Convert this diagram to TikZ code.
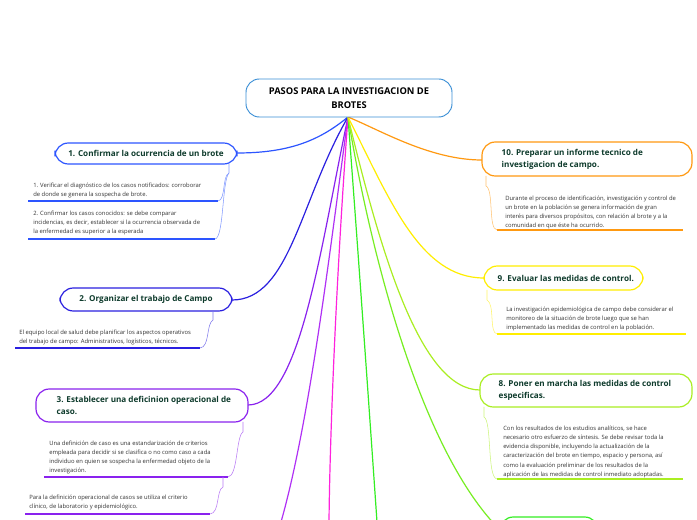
\documentclass[tikz,border=0pt]{standalone}
\usepackage{fontspec}
\setmainfont{Open Sans}
\begin{document}
\begin{tikzpicture}[x=0.75pt,y=-0.75pt,
  title/.style={font=\fontsize{6.1}{9}\selectfont\bfseries, text=titlec, align=left},
  body/.style={font=\fontsize{4.4}{6.8}\selectfont, text=bodyc, align=left, anchor=north west, inner sep=0pt},
  box/.style={rounded corners=10pt, line width=0.9pt},
  link/.style={line width=0.9pt},
  sub/.style={line width=0.4pt},
  ul/.style={line width=1.3pt}]
\definecolor{titlec}{HTML}{0E3B2C}
\definecolor{bodyc}{HTML}{333333}
\definecolor{cblue}{HTML}{3B8FD6}
\definecolor{c1}{HTML}{2D55FF}
\definecolor{c2}{HTML}{2A1FE0}
\definecolor{c3}{HTML}{8A22EE}
\definecolor{c4}{HTML}{B030F5}
\definecolor{c5}{HTML}{FF22DD}
\definecolor{c6}{HTML}{33EE22}
\definecolor{c7}{HTML}{77EE22}
\definecolor{c8}{HTML}{AAEE22}
\definecolor{c9}{HTML}{FFEE00}
\definecolor{c10}{HTML}{FF9911}
\useasboundingbox (0,0) rectangle (697,520);
\fill[white] (0,0) rectangle (697,520);

% connectors from center
\coordinate (o) at (348,117);
\coordinate (e4) at (281,522);
\coordinate (e5) at (329,522);
\coordinate (e6) at (377,522);
\draw[link,c1] (o) .. controls (320,140) and (290,153) .. (237,153);
\draw[link,c2] (o) .. controls (300,200) and (290,300) .. (232,300);
\draw[link,c3] (o) .. controls (320,250) and (300,405) .. (248,405);
\draw[link,c4] (o) .. controls (330,250) and (310,420) .. (e4);
\draw[link,c5] (o) .. controls (338,250) and (330,420) .. (e5);
\draw[link,c6] (o) .. controls (358,250) and (370,420) .. (e6);
\draw[link,c7] (o) .. controls (370,250) and (420,450) .. (500,530);
\draw[link,c8] (o) .. controls (380,250) and (420,390) .. (480,390);
\draw[link,c9] (o) .. controls (390,200) and (420,278) .. (484,278);
\draw[link,c10] (o) .. controls (380,130) and (430,160) .. (482,160);

% center
\draw[box,cblue,fill=white,line width=0.7pt] (246,79) rectangle (452,117);
\node[font=\fontsize{7}{10}\selectfont\bfseries, align=center] (c) at (349,98) {PASOS PARA LA INVESTIGACION DE\\BROTES};

% node 1
\draw[box,c1,fill=white] (55,143) rectangle (237,164);
\node[title] (n1) at (146,153.5) {1. Confirmar la ocurrencia de un brote};
\node[body] (t11) at (33,183) {1. Verificar el diagnóstico de los casos notificados: corroborar\\de donde se genera la sospecha de brote.};
\draw[ul,c1] (28,201) -- (218,201);
\draw[sub,c1!60] (229,164) -- (229,173) .. controls (222,176) and (226,200) .. (218,201);
\node[body] (t12) at (33,211) {2. Confirmar los casos conocidos: se debe comparar\\incidencias, es decir, establecer si la ocurrencia observada de\\la enfermedad es superior a la esperada};
\draw[ul,c1] (28,239) -- (215,239);
\draw[sub,c1!60] (229,173) .. controls (222,180) and (224,238) .. (215,239);

% node 2
\draw[box,c2,fill=white] (60,288) rectangle (232,311);
\node[title] (n2) at (146,299.5) {2. Organizar el trabajo de Campo};
\node[body] (t2) at (19,330) {El equipo local de salud debe planificar los aspectos operativos\\del trabajo de campo: Administrativos, logísticos, técnicos.};
\draw[ul,c2] (15,348) -- (200,348);
\draw[sub,c2!60] (213,311) -- (213,320) .. controls (206,324) and (210,347) .. (200,348);

% node 3
\draw[box,c3,fill=white] (36,389) rectangle (248,422);
\node[title,anchor=west] (n3) at (52,405.5) {3. Establecer una deficinion operacional de\\caso.};
\node[body] (t31) at (49,441) {Una definición de caso es una estandarización de criterios\\empleada para decidir si se clasifica o no como caso a cada\\individuo en quien se sospecha la enfermedad objeto de la\\investigación.};
\draw[ul,c3] (44,477) -- (228,477);
\draw[sub,c3!60] (243,422) -- (243,432) .. controls (236,436) and (238,476) .. (228,477);
\node[body] (t32) at (29,495) {Para la definición operacional de casos se utiliza el criterio\\clínico, de laboratorio y epidemiológico.};
\draw[ul,c3] (25,514) -- (210,514);
\draw[sub,c3!60] (223,477) -- (223,487) .. controls (216,490) and (220,513) .. (210,514);

% node 10
\draw[box,c10,fill=white] (482,142) rectangle (692,176);
\node[title,anchor=west] (n10) at (497,159) {10. Preparar un informe tecnico de\\investigacion de campo.};
\node[body] (t10) at (505,196) {Durante el proceso de identificación, investigación y control de\\un brote en la población se genera información de gran\\interés para diversos propósitos, con relación al brote y a la\\comunidad en que éste ha ocurrido.};
\draw[ul,c10] (497,230) -- (683,230);
\draw[sub,c10!60] (486,176) -- (486,186) .. controls (494,190) and (488,229) .. (497,230);

% node 9
\draw[box,c9,fill=white] (484,266) rectangle (643,290);
\node[title,anchor=west] (n9) at (493,278) {9. Evaluar las medidas de control.};
\node[body] (t9) at (506,307) {La investigación epidemiológica de campo debe considerar el\\monitoreo de la situación de brote luego que se han\\implementado las medidas de control en la población.};
\draw[ul,c9] (497,334) -- (686,334);
\draw[sub,c9!60] (487,290) -- (487,300) .. controls (495,304) and (489,333) .. (497,334);

% node 8
\draw[box,c8,fill=white] (480,374) rectangle (692,407);
\node[title,anchor=west] (n8) at (494,390.5) {8. Poner en marcha las medidas de control\\especificas.};
\node[body] (t8) at (503,426) {Con los resultados de los estudios analíticos, se hace\\necesario otro esfuerzo de síntesis. Se debe revisar toda la\\evidencia disponible, incluyendo la actualización de la\\caracterización del brote en tiempo, espacio y persona, así\\como la evaluación preliminar de los resultados de la\\aplicación de las medidas de control inmediato adoptadas.};
\draw[ul,c8] (497,479) -- (683,479);
\draw[sub,c8!60] (484,407) -- (484,417) .. controls (492,421) and (487,478) .. (497,479);

% partial node 7
\draw[box,c6,fill=white] (500,517) rectangle (598,540);
\end{tikzpicture}
\end{document}
